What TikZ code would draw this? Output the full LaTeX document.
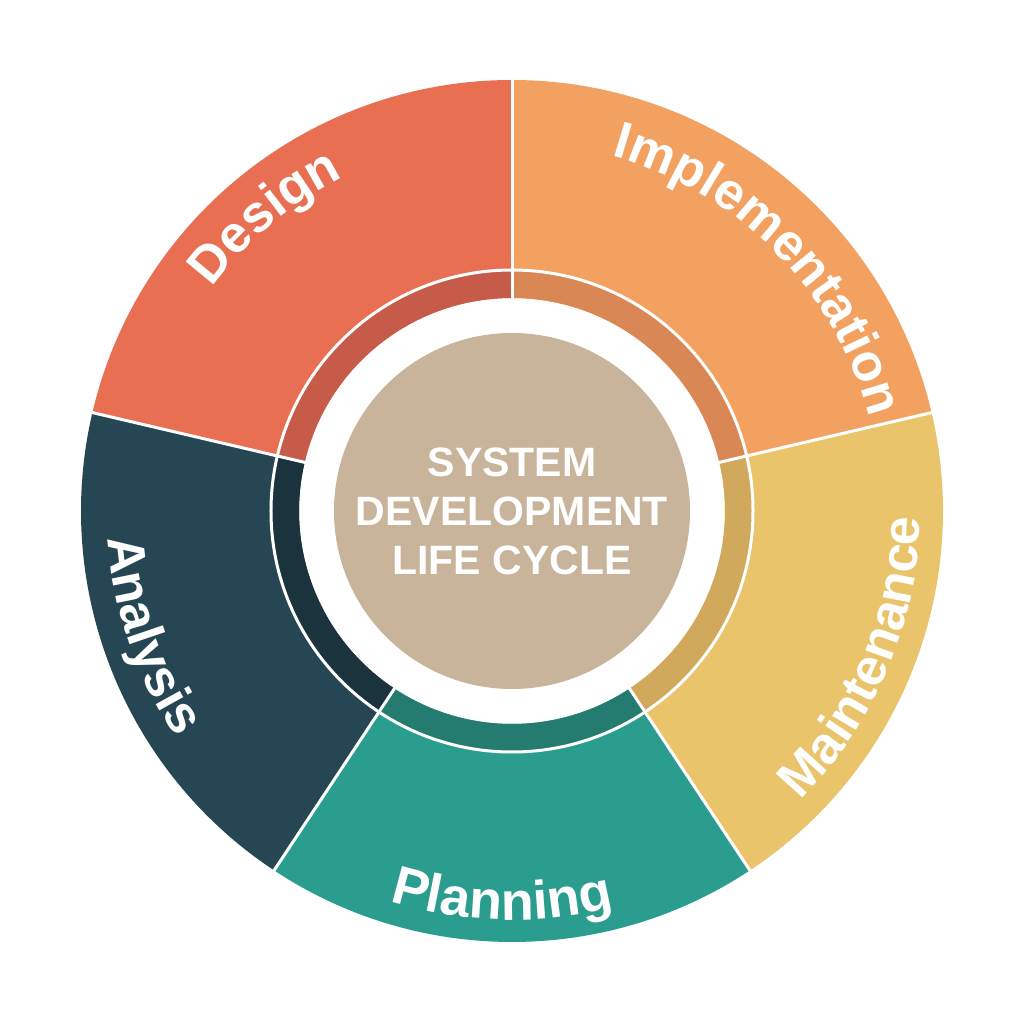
\documentclass[tikz,border=0pt]{standalone}
\usepackage{fontspec}
\setmainfont{Liberation Sans}
\usetikzlibrary{decorations.text}
\definecolor{cDes}{HTML}{E86F51}
\definecolor{cDesIn}{HTML}{C75B4A}
\definecolor{cImp}{HTML}{F2A160}
\definecolor{cImpIn}{HTML}{D98755}
\definecolor{cMai}{HTML}{E9C46A}
\definecolor{cMaiIn}{HTML}{D0A95C}
\definecolor{cPla}{HTML}{2A9D8F}
\definecolor{cPlaIn}{HTML}{247B6F}
\definecolor{cAna}{HTML}{264653}
\definecolor{cAnaIn}{HTML}{1B333D}
\definecolor{cCen}{HTML}{C8B49B}
\newcommand\segfill[4]{%
  \fill[#3] (#1:213pt) arc[start angle=#1, end angle=#2, radius=213pt]
    -- (#2:431pt) arc[start angle=#2, end angle=#1, radius=431pt] -- cycle;
  \fill[#4] (#1:213pt) arc[start angle=#1, end angle=#2, radius=213pt]
    -- (#2:241pt) arc[start angle=#2, end angle=#1, radius=241pt] -- cycle;}
\newcommand\lblfont{\color{white}\bfseries\fontsize{52}{60}\selectfont}
\newcommand\lblfontb{\color{white}\bfseries\fontsize{54}{60}\selectfont}
\tikzset{
  seplines/.style={white, line width=3pt},
  lbl/.style={decorate, decoration={text along path, text align=center, text={|\lblfont|#1}}},
  lblb/.style={decorate, decoration={text along path, text align=center, text={|\lblfontb|#1}}}
}
\begin{document}
\begin{tikzpicture}[x=1pt,y=1pt]
\useasboundingbox (-512,-513) rectangle (512,511);
\fill[white] (-512,-513) rectangle (512,511);
% segments
\segfill{90}{166.8}{cDes}{cDesIn}
\segfill{13.2}{90}{cImp}{cImpIn}
\segfill{-56.5}{13.2}{cMai}{cMaiIn}
\segfill{236.5}{303.5}{cPla}{cPlaIn}
\segfill{166.8}{236.5}{cAna}{cAnaIn}
% white separators
\draw[seplines] (0,0) circle[radius=241pt];
\foreach \a in {90,166.8,236.5,303.5,13.2}
  \draw[seplines] (\a:205pt) -- (\a:440pt);
% centre
\fill[cCen] (0,0) circle[radius=178pt];
\node[text=white, font=\bfseries\fontsize{41}{49}\selectfont, align=center] (title) at (0,0)
  {SYSTEM\\DEVELOPMENT\\LIFE CYCLE};
% labels
\path[lbl={Design}] (160:374pt) arc[start angle=160, end angle=100, radius=374pt];
\path[lbl={Implementation}] (84.5:369pt) arc[start angle=84.5, end angle=4.5, radius=369pt];
\path[lbl={Maintenance}] (-63:408pt) arc[start angle=-63, end angle=17, radius=408pt];
\path[lblb={Planning}] (228.5:409pt) arc[start angle=228.5, end angle=308.5, radius=409pt];
\path[lbl={Analysis}] (159:405pt) arc[start angle=159, end angle=239, radius=405pt];
\end{tikzpicture}
\end{document}
